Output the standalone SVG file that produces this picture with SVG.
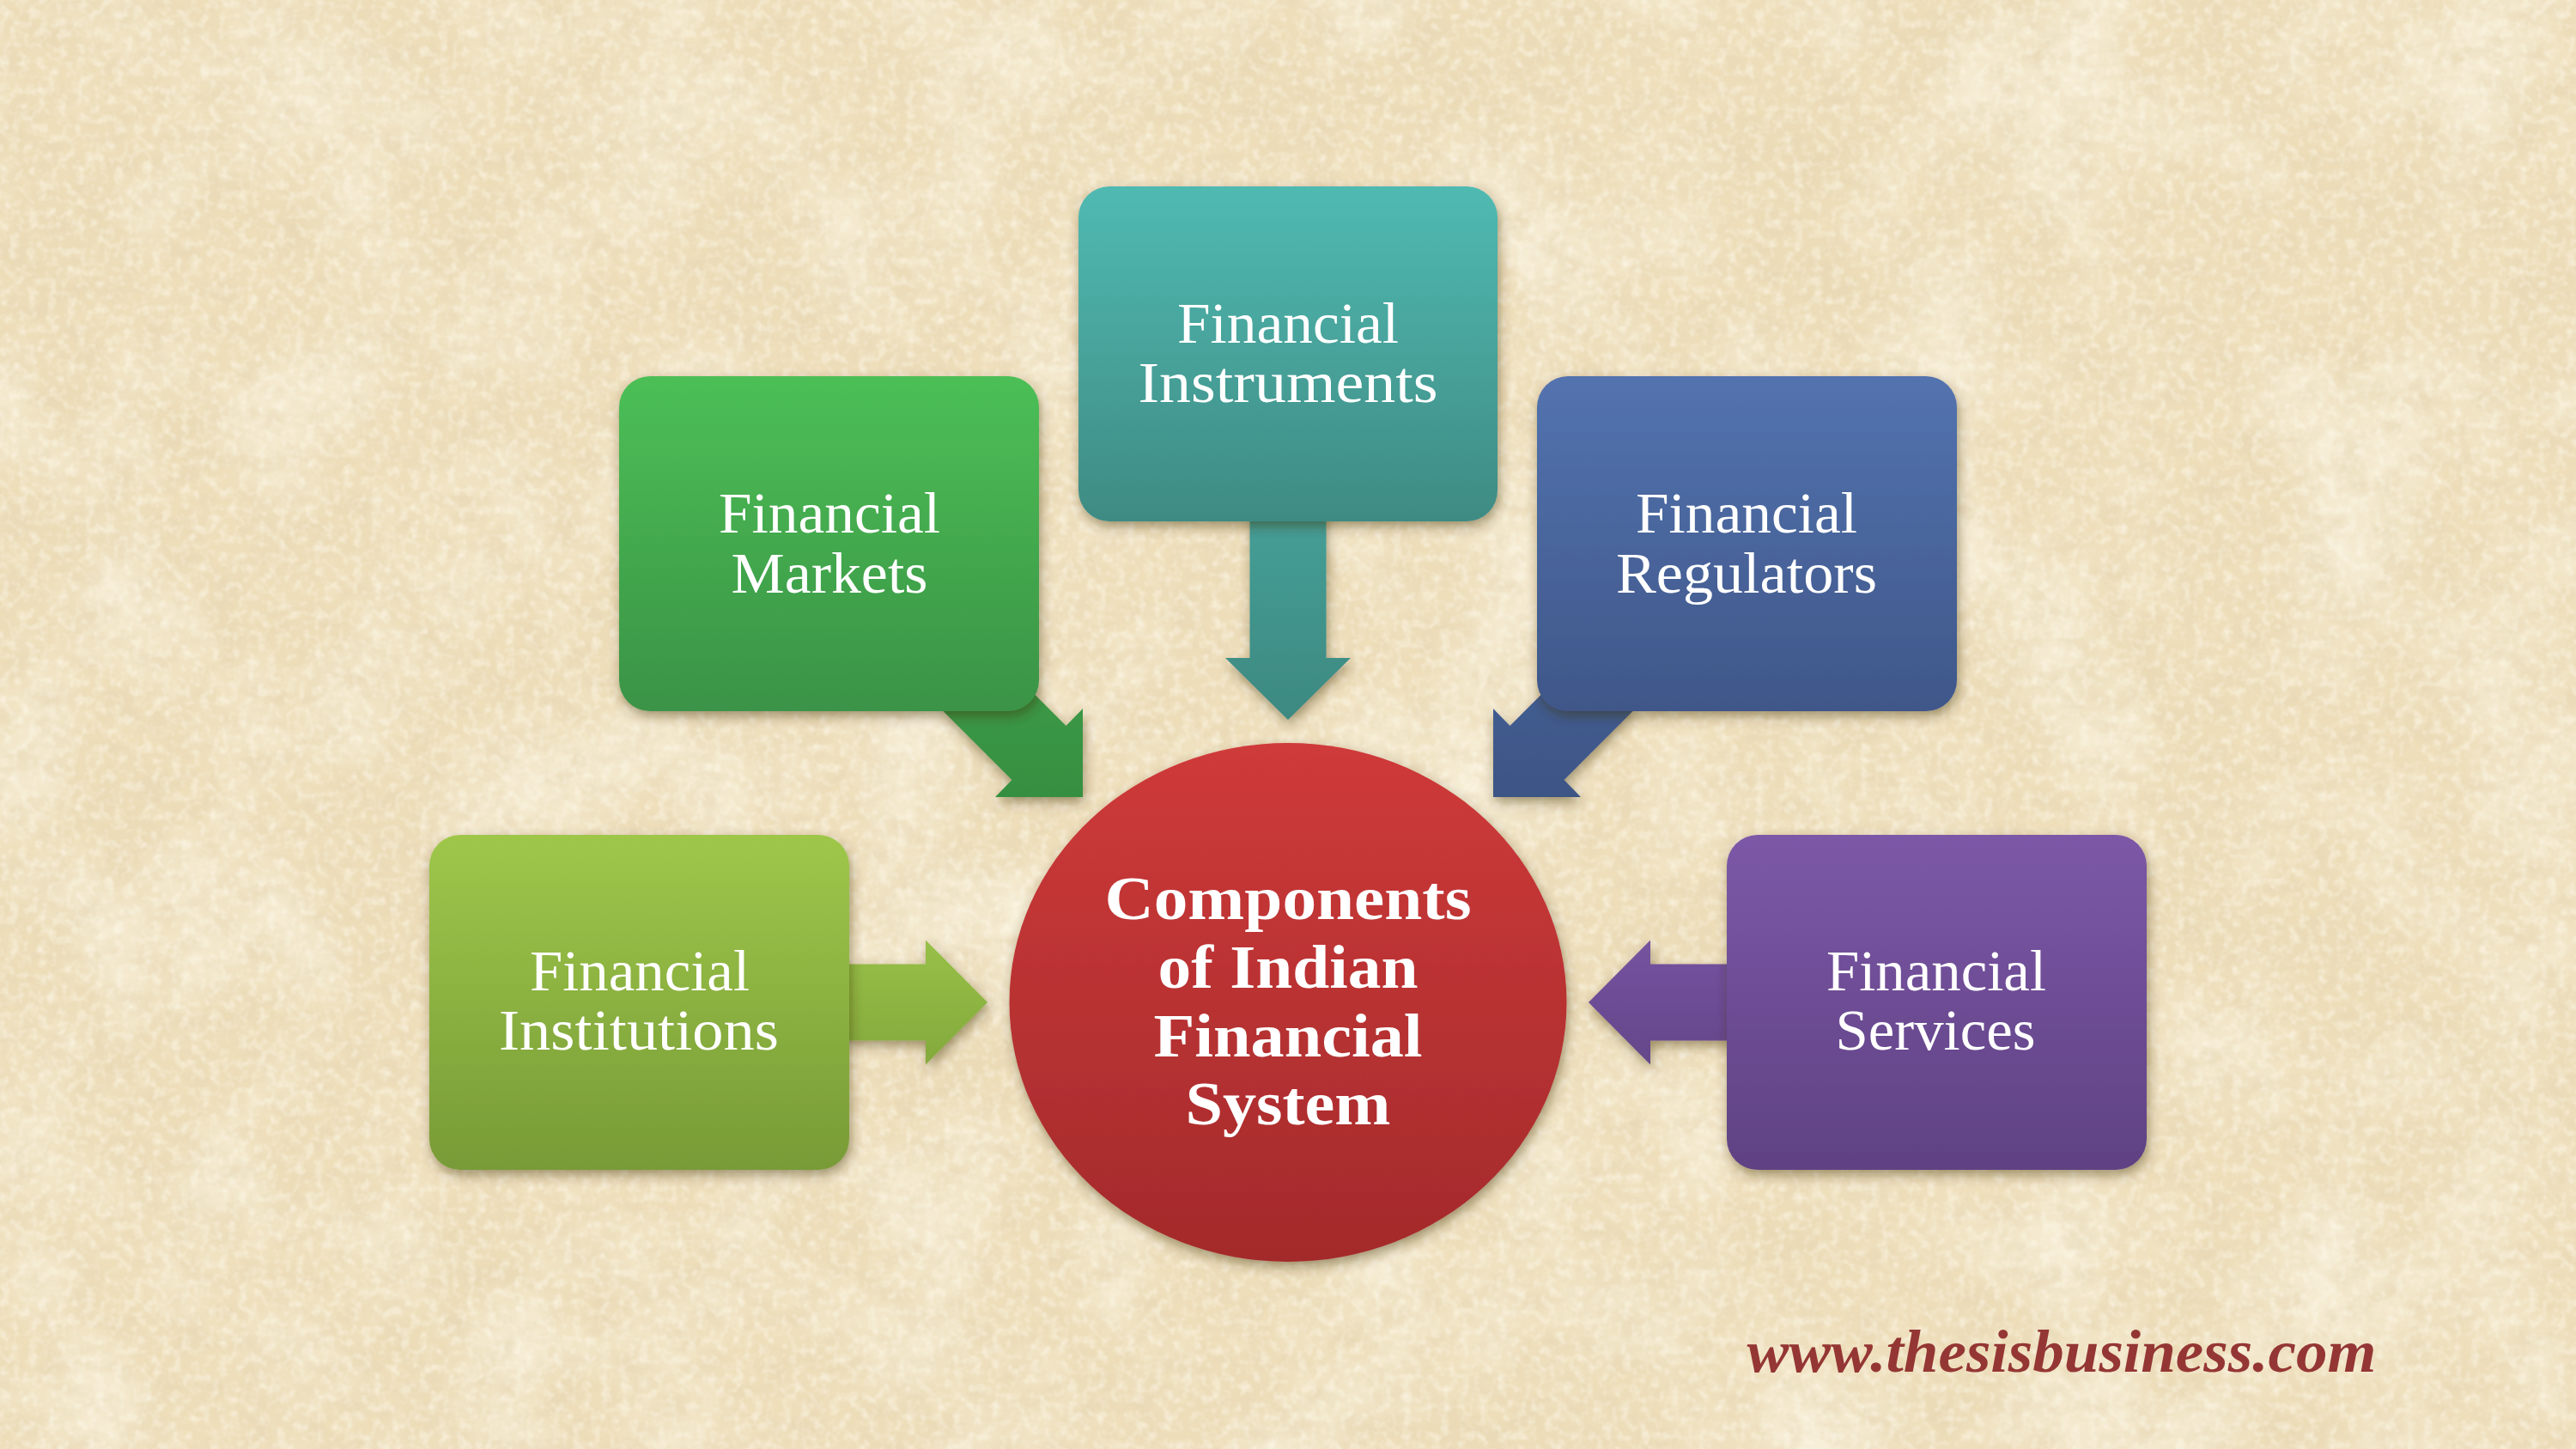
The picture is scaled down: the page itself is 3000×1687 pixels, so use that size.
<svg xmlns="http://www.w3.org/2000/svg" width="3000" height="1687" viewBox="0 0 3000 1687">
<defs>
<style>
.lbl{font-family:"Liberation Serif","Times New Roman",serif;font-size:67px;fill:#ffffff;text-anchor:middle}
.ctr{font-family:"Liberation Serif","Times New Roman",serif;font-size:72px;font-weight:bold;fill:#ffffff;text-anchor:middle}
.web{font-family:"Liberation Serif","Times New Roman",serif;font-size:70px;font-weight:bold;font-style:italic;fill:#943634;text-anchor:middle}
</style>
<filter id="texDark" x="0" y="0" width="1" height="1">
<feTurbulence type="fractalNoise" baseFrequency="0.005 0.007" numOctaves="5" seed="7" result="n"/>
<feColorMatrix in="n" type="matrix" values="0 0 0 0 0.82  0 0 0 0 0.70  0 0 0 0 0.46  1.7 0 0 0 -0.72"/>
</filter>
<filter id="texLight" x="0" y="0" width="1" height="1">
<feTurbulence type="fractalNoise" baseFrequency="0.006 0.005" numOctaves="5" seed="21" result="n"/>
<feColorMatrix in="n" type="matrix" values="0 0 0 0 0.97  0 0 0 0 0.93  0 0 0 0 0.80  0 1.6 0 0 -0.70"/>
</filter>
<filter id="texFiber" x="0" y="0" width="1" height="1">
<feTurbulence type="fractalNoise" baseFrequency="0.025 0.04" numOctaves="3" seed="11" result="n"/>
<feColorMatrix in="n" type="matrix" values="0 0 0 0 0.80  0 0 0 0 0.68  0 0 0 0 0.46  0 0 1.5 0 -0.62"/>
</filter>
<filter id="texGrain" x="0" y="0" width="1" height="1">
<feTurbulence type="fractalNoise" baseFrequency="0.09" numOctaves="2" seed="3" result="n"/>
<feColorMatrix in="n" type="matrix" values="0 0 0 0 0.98  0 0 0 0 0.94  0 0 0 0 0.82  1.4 0 0 0 -0.6"/>
</filter>
<filter id="sh" x="-20%" y="-20%" width="140%" height="140%">
<feDropShadow dx="2" dy="6" stdDeviation="7" flood-color="#3a2a10" flood-opacity="0.45"/>
</filter>
<linearGradient id="gTeal" x1="0" y1="0" x2="0" y2="1"><stop offset="0" stop-color="#50BAB2"/><stop offset="1" stop-color="#3E8B83"/></linearGradient>
<linearGradient id="gGreen" x1="0" y1="0" x2="0" y2="1"><stop offset="0" stop-color="#4CBF56"/><stop offset="1" stop-color="#3A9346"/></linearGradient>
<linearGradient id="gBlue" x1="0" y1="0" x2="0" y2="1"><stop offset="0" stop-color="#5373AF"/><stop offset="1" stop-color="#3F5789"/></linearGradient>
<linearGradient id="gLime" x1="0" y1="0" x2="0" y2="1"><stop offset="0" stop-color="#9EC74A"/><stop offset="1" stop-color="#789B37"/></linearGradient>
<linearGradient id="gPurple" x1="0" y1="0" x2="0" y2="1"><stop offset="0" stop-color="#7C58A7"/><stop offset="1" stop-color="#5F4283"/></linearGradient>
<linearGradient id="gRed" x1="0" y1="0" x2="0" y2="1"><stop offset="0" stop-color="#CF3A3A"/><stop offset="1" stop-color="#A32A2B"/></linearGradient>
<linearGradient id="aTeal" x1="0" y1="0" x2="0" y2="1"><stop offset="0" stop-color="#46A29A"/><stop offset="1" stop-color="#3D8981"/></linearGradient>
<linearGradient id="aGreen" x1="0" y1="0" x2="0" y2="1"><stop offset="0" stop-color="#3D9C48"/><stop offset="1" stop-color="#368F41"/></linearGradient>
<linearGradient id="aBlue" x1="0" y1="0" x2="0" y2="1"><stop offset="0" stop-color="#445F94"/><stop offset="1" stop-color="#3D5585"/></linearGradient>
<linearGradient id="aLime" x1="0" y1="0" x2="0" y2="1"><stop offset="0" stop-color="#97C047"/><stop offset="1" stop-color="#84A93D"/></linearGradient>
<linearGradient id="aPurple" x1="0" y1="0" x2="0" y2="1"><stop offset="0" stop-color="#7553A0"/><stop offset="1" stop-color="#64478A"/></linearGradient>
</defs>

<g id="background">
<rect x="0" y="0" width="3000" height="1687" fill="#EEDEBA"/>
<rect x="0" y="0" width="3000" height="1687" filter="url(#texDark)"/>
<rect x="0" y="0" width="3000" height="1687" filter="url(#texLight)"/>
<rect x="0" y="0" width="3000" height="1687" filter="url(#texFiber)"/>
<rect x="0" y="0" width="3000" height="1687" filter="url(#texGrain)"/>
</g>

<g id="connectors">
<polygon id="arrow-instruments" filter="url(#sh)" fill="url(#aTeal)" points="1455.5,560 1544.5,560 1544.5,766 1573,766 1500,838 1427,766 1455.5,766"/>
<polygon id="arrow-markets" filter="url(#sh)" fill="url(#aGreen)" points="1161.5,765 1241.5,845 1261,825 1261,928 1159,928 1178.5,908 1098.5,828"/>
<polygon id="arrow-regulators" filter="url(#sh)" fill="url(#aBlue)" points="1838.5,765 1758.5,845 1739,825 1739,928 1841,928 1821.5,908 1901.5,828"/>
<polygon id="arrow-institutions" filter="url(#sh)" fill="url(#aLime)" points="950,1122.5 1078,1122.5 1078,1094.5 1150,1167 1078,1239.5 1078,1211.5 950,1211.5"/>
<polygon id="arrow-services" filter="url(#sh)" fill="url(#aPurple)" points="2050,1122.5 1922,1122.5 1922,1094.5 1850,1167 1922,1239.5 1922,1211.5 2050,1211.5"/>
</g>

<g id="node-instruments">
<rect x="1256" y="217" width="488" height="390" rx="36" fill="url(#gTeal)" filter="url(#sh)"/>
<text class="lbl" x="1500" y="399" textLength="258" lengthAdjust="spacingAndGlyphs">Financial</text>
<text class="lbl" x="1500" y="468" textLength="349" lengthAdjust="spacingAndGlyphs">Instruments</text>
</g>

<g id="node-markets">
<rect x="721" y="438" width="489" height="390" rx="36" fill="url(#gGreen)" filter="url(#sh)"/>
<text class="lbl" x="966" y="620" textLength="258" lengthAdjust="spacingAndGlyphs">Financial</text>
<text class="lbl" x="966" y="690" textLength="229" lengthAdjust="spacingAndGlyphs">Markets</text>
</g>

<g id="node-regulators">
<rect x="1790" y="438" width="489" height="390" rx="36" fill="url(#gBlue)" filter="url(#sh)"/>
<text class="lbl" x="2034" y="620" textLength="258" lengthAdjust="spacingAndGlyphs">Financial</text>
<text class="lbl" x="2034" y="690" textLength="304" lengthAdjust="spacingAndGlyphs">Regulators</text>
</g>

<g id="node-institutions">
<rect x="500" y="972" width="489" height="390" rx="36" fill="url(#gLime)" filter="url(#sh)"/>
<text class="lbl" x="745" y="1153" textLength="256" lengthAdjust="spacingAndGlyphs">Financial</text>
<text class="lbl" x="744" y="1222" textLength="326" lengthAdjust="spacingAndGlyphs">Institutions</text>
</g>

<g id="node-services">
<rect x="2011" y="972" width="489" height="390" rx="36" fill="url(#gPurple)" filter="url(#sh)"/>
<text class="lbl" x="2255" y="1153" textLength="256" lengthAdjust="spacingAndGlyphs">Financial</text>
<text class="lbl" x="2254" y="1222" textLength="233" lengthAdjust="spacingAndGlyphs">Services</text>
</g>

<g id="node-center">
<ellipse cx="1500" cy="1167" rx="324.5" ry="302" fill="url(#gRed)" filter="url(#sh)"/>
<text class="ctr" x="1500" y="1070" textLength="427" lengthAdjust="spacingAndGlyphs">Components</text>
<text class="ctr" x="1500" y="1150" textLength="303" lengthAdjust="spacingAndGlyphs">of Indian</text>
<text class="ctr" x="1500" y="1230" textLength="313" lengthAdjust="spacingAndGlyphs">Financial</text>
<text class="ctr" x="1500" y="1309" textLength="239" lengthAdjust="spacingAndGlyphs">System</text>
</g>

<g id="website">
<text class="web" x="2401" y="1597" textLength="733" lengthAdjust="spacingAndGlyphs">www.thesisbusiness.com</text>
</g>
</svg>
